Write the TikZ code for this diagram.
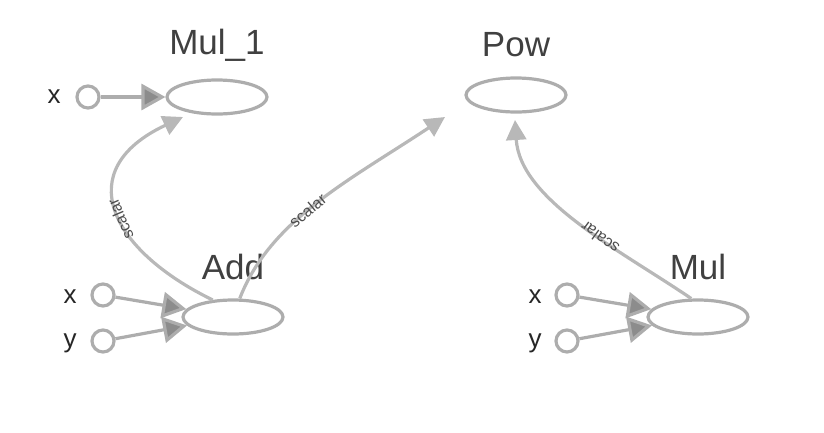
\documentclass[tikz,border=0pt]{standalone}
\usepackage{fontspec}
\setmainfont{Liberation Sans}
\usetikzlibrary{shapes.geometric,arrows.meta}
\begin{document}
\begin{tikzpicture}[x=1pt,y=-1pt,
  op/.style={ellipse,draw=black!32,line width=3.2pt,minimum width=100pt,minimum height=34pt,inner sep=0pt},
  ph/.style={circle,draw=black!32,line width=3.2pt,minimum size=22pt,inner sep=0pt},
  nm/.style={text=black!75,font=\fontsize{35}{35}\selectfont},
  vn/.style={text=black!85,font=\fontsize{26}{26}\selectfont},
  e/.style={draw=black!28,line width=3.2pt,-{Triangle[length=20pt,width=20pt]}},
  d/.style={draw=black!32,line width=3.2pt,-{Triangle[length=24pt,width=26pt,fill=black!45]}},
  lab/.style={text=black!70,font=\fontsize{16}{16}\selectfont,sloped,inner sep=1pt}]
\useasboundingbox (0,0) rectangle (824,432);
% Mul_1
\node[op] (m1) at (217,97) {};
\node[nm] (m1l) at (217,45) {Mul\_1};
\node[ph] (x1) at (88,97) {};
\node[vn] (x1l) at (54,97) {x};
% Pow
\node[op] (pw) at (516,95) {};
\node[nm] (pwl) at (516,45) {Pow};
% Add
\node[op] (ad) at (233,317) {};
\node[nm] (adl) at (233,267) {Add};
\node[ph] (x2) at (103,295) {};
\node[ph] (y2) at (103,341) {};
\node[vn] (x2l) at (70,297) {x};
\node[vn] (y2l) at (70,343) {y};
% Mul
\node[op] (mu) at (698,317) {};
\node[nm] (mul) at (698,267) {Mul};
\node[ph] (x3) at (567,295) {};
\node[ph] (y3) at (567,341) {};
\node[vn] (x3l) at (535,297) {x};
\node[vn] (y3l) at (535,343) {y};
% data edges
\draw[d] (x1) -- (m1);
\draw[d] (x2) -- (ad);
\draw[d] (y2) -- (ad);
\draw[d] (x3) -- (mu);
\draw[d] (y3) -- (mu);
% scalar edges
\draw[e] (ad.140) .. controls (110,250) and (70,170) .. (183,117)
  node[lab,pos=0.45,rotate=180] {scalar};
\draw[e] (ad.70) .. controls (270,220) and (350,180) .. (445,117)
  node[lab,pos=0.45] {scalar};
\draw[e] (mu.110) .. controls (620,250) and (520,200) .. (515,120)
  node[lab,pos=0.4,rotate=180] {scalar};
\end{tikzpicture}
\end{document}
